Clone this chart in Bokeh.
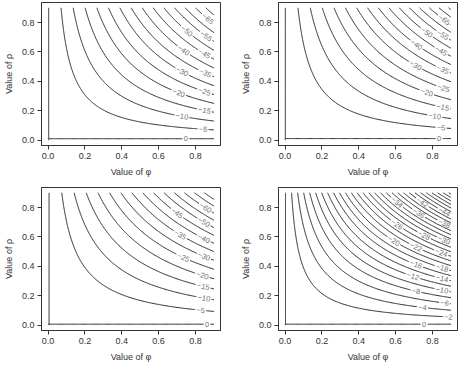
import numpy as np
import contourpy
from bokeh.plotting import figure
from bokeh.models import Range1d, FixedTicker, PrintfTickFormatter, ColumnDataSource
from bokeh.layouts import gridplot
from bokeh.core.properties import value
from bokeh.embed import file_html
from bokeh.resources import INLINE

# ---------------- data ----------------
phi_grid = np.linspace(0.0, 0.9, 181)
rho_grid = np.linspace(0.0, 0.9, 181)

# surface read per panel:  z = -scale*(phi-phi0)(1+cphi*phi)*(rho-rho0)(1+crho*rho)
scale = [83.0, 67.0, 52.0, 42.0]
curv_phi = [0.13, 0.20, 0.19, 0.05]
curv_rho = [0.00, 0.23, 0.60, 0.68]
zero_phi = [0.003, 0.001, 0.005, 0.002]
zero_rho = [0.010, 0.011, 0.007, 0.007]

levels_by5 = [0, -5, -10, -15, -20, -25, -30, -35, -40, -45, -50, -55, -60, -65, -70, -75]
levels_by2 = [0, -2, -4, -6, -8, -10, -12, -14, -16, -18, -20, -22, -24, -26, -28, -30,
              -32, -34, -36, -38, -40, -42, -44, -46, -48, -50, -52, -54, -56]

lab_lev_1 = [0, -5, -10, -15, -20, -25, -30, -35, -40, -45, -50, -55, -65]
lab_lev_2 = [0, -5, -10, -15, -20, -25, -30, -35, -40, -45, -50, -55, -65]
lab_lev_3 = [0, -5, -10, -15, -20, -25, -30, -35, -40, -45, -50, -60]
lab_lev_4 = [0, -2, -4, -6, -8, -10, -12, -14, -16, -18, -20, -22, -24, -26, -28, -30,
             -34, -36, -38, -42, -44]

# label placement (phi position along each labelled contour)
lab_phi_1 = [0.748, 0.841, 0.727, 0.849, 0.709, 0.849, 0.727, 0.853, 0.736, 0.849, 0.753, 0.858, 0.867]
lab_phi_2 = [0.836, 0.847, 0.812, 0.856, 0.769, 0.860, 0.708, 0.856, 0.713, 0.847, 0.769, 0.856, 0.864]
lab_phi_3 = [0.863, 0.828, 0.846, 0.842, 0.837, 0.734, 0.846, 0.717, 0.846, 0.700, 0.846, 0.854]
lab_phi_4 = [0.755, 0.886, 0.745, 0.866, 0.710, 0.852, 0.694, 0.852, 0.710, 0.852, 0.590, 0.710,
             0.848, 0.607, 0.754, 0.862, 0.607, 0.725, 0.864, 0.745, 0.864]

tick_vals = [0.0, 0.2, 0.4, 0.6, 0.8]

# ---------------- layout ----------------
X0, X1 = -0.036, 0.936
Y0, Y1 = -0.036, 0.936
FW, FH = 183, 143
LEFT_B, BOT_B = 37, 36
FONT = "Liberation Sans"
LAB_FS = 7.5


def to_px(x, y):
    return (x - X0) / (X1 - X0) * FW, (y - Y0) / (Y1 - Y0) * FH


def split_at(x, y, t, half):
    d = x - t
    cand = [i for i in range(len(d) - 1) if d[i] * d[i + 1] <= 0 and d[i] != d[i + 1]]
    if not cand:
        return None
    i = cand[0]
    f = d[i] / (d[i] - d[i + 1])
    X, Y = to_px(x, y)
    seg = np.hypot(np.diff(X), np.diff(Y))
    s = np.concatenate([[0.0], np.cumsum(seg)])
    s0 = s[i] + f * seg[i]
    cx = np.interp(s0, s, x)
    cy = np.interp(s0, s, y)
    w = 3.0
    xa, ya = np.interp(max(s0 - w, 0), s, X), np.interp(max(s0 - w, 0), s, Y)
    xb, yb = np.interp(min(s0 + w, s[-1]), s, X), np.interp(min(s0 + w, s[-1]), s, Y)
    ang = np.arctan2(yb - ya, xb - xa)
    if ang > np.pi / 2:
        ang -= np.pi
    if ang < -np.pi / 2:
        ang += np.pi
    sa, sb = s0 - half, s0 + half
    pieces = []
    if sa > 0:
        m = s < sa
        pieces.append((np.append(x[m], np.interp(sa, s, x)), np.append(y[m], np.interp(sa, s, y))))
    if sb < s[-1]:
        m = s > sb
        pieces.append((np.insert(x[m], 0, np.interp(sb, s, x)), np.insert(y[m], 0, np.interp(sb, s, y))))
    return pieces, cx, cy, ang


def label_text(lev):
    return "0" if lev == 0 else "\u2212" + str(abs(lev))


def panel(k, levels, lab_lev, lab_phi, top_b, right_b):
    P, R = np.meshgrid(phi_grid, rho_grid)
    Z = -scale[k] * (P - zero_phi[k]) * (1 + curv_phi[k] * P) * (R - zero_rho[k]) * (1 + curv_rho[k] * R)
    gen = contourpy.contour_generator(phi_grid, rho_grid, Z)
    labs = dict(zip(lab_lev, lab_phi))
    xs, ys = [], []
    tx, ty, tt, ta = [], [], [], []
    for lev in sorted(levels):
        done = False
        for ln in gen.lines(lev):
            x, y = ln[:, 0], ln[:, 1]
            if lev in labs and not done:
                txt = label_text(lev)
                half = len(txt) * 0.56 * LAB_FS / 2 + 1.5
                res = split_at(x, y, labs[lev], half)
                if res is not None:
                    pieces, cx, cy, ang = res
                    done = True
                    tx.append(cx); ty.append(cy); tt.append(txt); ta.append(ang)
                    for px_, py_ in pieces:
                        xs.append(list(px_)); ys.append(list(py_))
                    continue
            xs.append(list(x)); ys.append(list(y))

    p = figure(width=LEFT_B + FW + right_b, height=top_b + FH + BOT_B,
               x_range=Range1d(X0, X1), y_range=Range1d(Y0, Y1),
               output_backend="svg", toolbar_location=None,
               min_border_left=LEFT_B, min_border_right=right_b,
               min_border_top=top_b, min_border_bottom=BOT_B)
    p.grid.visible = False
    p.outline_line_color = "#333333"
    p.outline_line_width = 1
    p.outline_line_alpha = 1
    p.background_fill_color = "white"
    p.border_fill_color = "white"

    p.multi_line(xs=xs, ys=ys, line_color="#262626", line_width=1)
    src = ColumnDataSource(dict(x=tx, y=ty, t=tt, a=ta))
    p.text(x="x", y="y", text="t", angle="a", source=src,
           text_font=value(FONT), text_font_size=f"{LAB_FS}px",
           text_align="center", text_baseline="middle", text_color="#707070")

    p.xaxis.axis_label = "Value of \u03c6"
    p.yaxis.axis_label = "Value of \u03c1"
    for ax in (p.xaxis[0], p.yaxis[0]):
        ax.ticker = FixedTicker(ticks=tick_vals)
        ax.formatter = PrintfTickFormatter(format="%.1f")
        ax.major_tick_out = 4
        ax.major_tick_in = 0
        ax.minor_tick_line_color = None
        ax.major_tick_line_color = "#333333"
        ax.axis_line_color = "#333333"
        ax.major_label_text_font = FONT
        ax.major_label_text_font_size = "9px"
        ax.major_label_text_color = "#333333"
        ax.major_label_standoff = 3
        ax.axis_label_text_font = FONT
        ax.axis_label_text_font_size = "9px"
        ax.axis_label_text_font_style = "normal"
        ax.axis_label_text_color = "#333333"
        ax.axis_label_standoff = 5
    return p


p1 = panel(0, levels_by5, lab_lev_1, lab_phi_1, 2, 17)
p2 = panel(1, levels_by5, lab_lev_2, lab_phi_2, 2, 1)
p3 = panel(2, levels_by5, lab_lev_3, lab_phi_3, 6, 17)
p4 = panel(3, levels_by2, lab_lev_4, lab_phi_4, 6, 1)

grid = gridplot([[p1, p2], [p3, p4]], toolbar_location=None)
open("out.html", "w").write(file_html(grid, INLINE))
